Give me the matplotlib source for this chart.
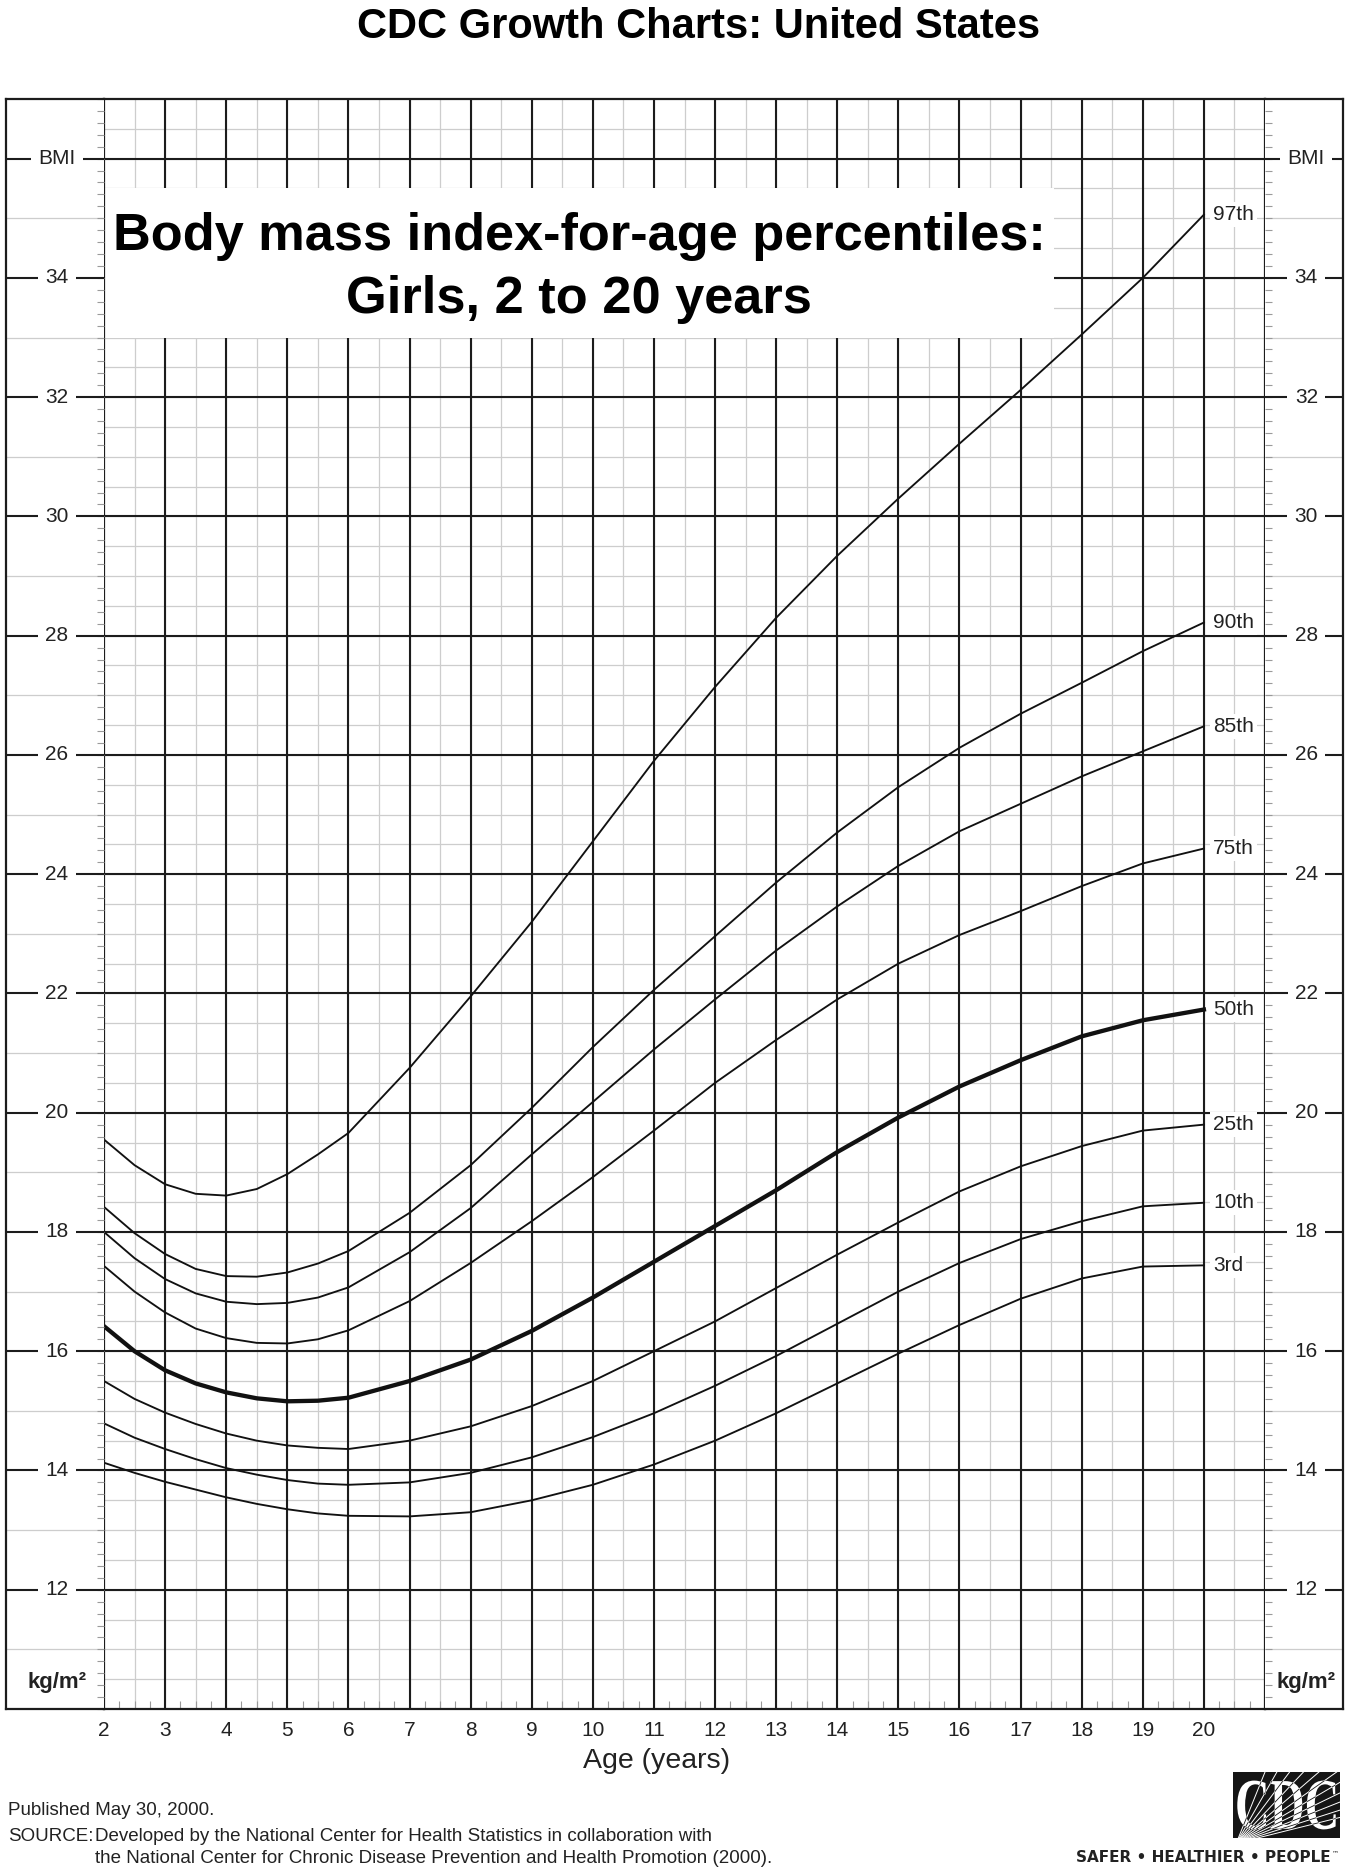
import numpy as np
import matplotlib.pyplot as plt
from matplotlib.patches import Rectangle, PathPatch
from matplotlib.ticker import MultipleLocator
from matplotlib.textpath import TextPath
from matplotlib.font_manager import FontProperties
from matplotlib.transforms import Affine2D

# ---- data (age in years, BMI in kg/m2) ----
ages = [2, 2.5, 3, 3.5, 4, 4.5, 5, 5.5, 6, 7, 8, 9, 10, 11, 12, 13, 14, 15, 16, 17, 18, 19, 20]

p97 = [19.55, 19.12, 18.80, 18.64, 18.61, 18.72, 18.97, 19.30, 19.66, 20.75, 21.95, 23.20,
       24.55, 25.90, 27.14, 28.30, 29.34, 30.30, 31.22, 32.12, 33.05, 34.00, 35.06]
p90 = [18.42, 17.98, 17.63, 17.38, 17.26, 17.25, 17.32, 17.47, 17.68, 18.32, 19.12, 20.08,
       21.10, 22.06, 22.96, 23.86, 24.70, 25.46, 26.12, 26.69, 27.21, 27.74, 28.22]
p85 = [18.00, 17.56, 17.21, 16.97, 16.83, 16.79, 16.81, 16.90, 17.07, 17.66, 18.40, 19.30,
       20.18, 21.06, 21.90, 22.72, 23.46, 24.14, 24.72, 25.18, 25.64, 26.06, 26.48]
p75 = [17.43, 17.00, 16.65, 16.38, 16.22, 16.14, 16.13, 16.20, 16.35, 16.84, 17.48, 18.18,
       18.92, 19.70, 20.50, 21.22, 21.90, 22.50, 22.98, 23.38, 23.80, 24.18, 24.43]
p50 = [16.42, 16.00, 15.68, 15.46, 15.31, 15.21, 15.16, 15.17, 15.22, 15.50, 15.86, 16.34,
       16.90, 17.50, 18.10, 18.70, 19.34, 19.92, 20.44, 20.88, 21.28, 21.55, 21.73]
p25 = [15.50, 15.20, 14.97, 14.78, 14.62, 14.50, 14.42, 14.38, 14.36, 14.50, 14.74, 15.08,
       15.50, 16.00, 16.50, 17.06, 17.62, 18.16, 18.68, 19.10, 19.44, 19.70, 19.80]
p10 = [14.79, 14.55, 14.36, 14.19, 14.04, 13.93, 13.84, 13.78, 13.76, 13.80, 13.96, 14.22,
       14.56, 14.96, 15.42, 15.92, 16.46, 17.00, 17.48, 17.88, 18.18, 18.43, 18.49]
p3 = [14.13, 13.96, 13.81, 13.68, 13.55, 13.44, 13.35, 13.28, 13.24, 13.23, 13.30, 13.50,
      13.76, 14.10, 14.50, 14.96, 15.46, 15.96, 16.44, 16.88, 17.22, 17.42, 17.44]

curves = [p97, p90, p85, p75, p50, p25, p10, p3]
curve_names = ['97th', '90th', '85th', '75th', '50th', '25th', '10th', '3rd']

age_ticks = list(range(2, 21))
bmi_ticks = list(range(12, 37, 2))
bmi_ticklabels = [str(v) for v in range(12, 35, 2)] + ['BMI']

plt.rcParams['font.family'] = ['Liberation Sans', 'DejaVu Sans']
DARK = '#1c1c1c'
LIGHT = '#cdcdcd'
TICK = '#9a9a9a'

W, H = 1355, 1871


def box(x0, y0, x1, y1):
    # pixel box, origin top-left -> figure rect
    return [x0 / W, 1 - y1 / H, (x1 - x0) / W, (y1 - y0) / H]


fig = plt.figure(figsize=(W / 100, H / 100), dpi=100)
ax = fig.add_axes(box(104, 99, 1265, 1709))
axl = fig.add_axes(box(6, 99, 104, 1709))
axr = fig.add_axes(box(1265, 99, 1343, 1709))

for a in (ax, axl, axr):
    a.set_ylim(10, 37)
    for s in a.spines.values():
        s.set_linewidth(1.6)
        s.set_color(DARK)
        s.set_zorder(6)
ax.set_xlim(2, 21)
axl.set_xlim(0, 1)
axr.set_xlim(0, 1)
axl.spines['right'].set_visible(False)
axr.spines['left'].set_visible(False)

# small ticks on the margins every 0.2
axl.yaxis.tick_right()
axl.yaxis.set_major_locator(MultipleLocator(0.2))
axl.tick_params(axis='y', direction='in', length=5, width=0.8, color=TICK,
                labelright=False, labelleft=False)
axl.set_xticks([])
axr.yaxis.set_major_locator(MultipleLocator(0.2))
axr.tick_params(axis='y', direction='in', length=5, width=0.8, color=TICK,
                labelleft=False, labelright=False)
axr.set_xticks([])

# age axis
ax.set_yticks([])
ax.set_xticks(age_ticks)
ax.set_xticklabels([str(a) for a in age_ticks])
ax.xaxis.set_minor_locator(MultipleLocator(0.25))
ax.tick_params(axis='x', which='major', length=0, pad=9, labelsize=15, labelcolor='#222')
ax.tick_params(axis='x', which='minor', direction='in', length=6, width=0.8, color=TICK)

# grid
ax.hlines(np.arange(10.5, 37, 0.5), 2, 21, colors=LIGHT, lw=0.9, zorder=1)
ax.vlines(np.arange(2.5, 21, 0.5), 10, 37, colors=LIGHT, lw=0.9, zorder=1)
ax.hlines(bmi_ticks, 2, 21, colors=DARK, lw=1.5, zorder=2)
ax.vlines(age_ticks[1:], 10, 37, colors=DARK, lw=1.5, zorder=2)

# margins with BMI labels
for a, xc in ((axl, 0.52), (axr, 0.53)):
    a.hlines(range(11, 37, 2), 0, 1, colors=LIGHT, lw=0.9, zorder=1)
    a.hlines(bmi_ticks, 0, 1, colors=DARK, lw=1.5, zorder=2)
    for v, lab in zip(bmi_ticks, bmi_ticklabels):
        a.text(xc, v, lab, ha='center', va='center', fontsize=15, color='#222', zorder=4,
               bbox=dict(boxstyle='square,pad=0.35', fc='white', ec='none'))
    a.text(xc, 10.45, 'kg/m²', ha='center', va='center', fontsize=16,
           fontweight='bold', color='#222', zorder=4)

# title box inside the grid
ax.add_patch(Rectangle((2, 33.0), 15.55, 2.5, facecolor='white', edgecolor='none', zorder=3))
ax.text(9.78, 34.47, 'Body mass index-for-age percentiles:', ha='center', va='baseline',
        fontsize=37.7, fontweight='bold', zorder=4)
ax.text(9.78, 33.41, 'Girls, 2 to 20 years', ha='center', va='baseline',
        fontsize=37.7, fontweight='bold', zorder=4)

# percentile curves
for vals, name in zip(curves, curve_names):
    lw = 3.1 if name == '50th' else 1.35
    ax.plot(ages, vals, color='#111', lw=lw, zorder=4, solid_joinstyle='round')
    ax.text(20.15, vals[-1], name, ha='left', va='center', fontsize=15, color='#222',
            zorder=5, bbox=dict(boxstyle='square,pad=0.15', fc='white', ec='none'))

# texts around
fig.text(699 / W, 1 - 38 / H, 'CDC Growth Charts: United States', ha='center',
         va='baseline', fontsize=30, fontweight='bold')
fig.text(657 / W, 1 - 1768 / H, 'Age (years)', ha='center', va='baseline', fontsize=20.5,
         color='#222')
fig.text(8 / W, 1 - 1815 / H, 'Published May 30, 2000.', ha='left', va='baseline',
         fontsize=13.5, color='#222')
fig.text(8 / W, 1 - 1841 / H, 'SOURCE:', ha='left', va='baseline',
         fontsize=13.5, color='#222')
fig.text(95 / W, 1 - 1841 / H,
         'Developed by the National Center for Health Statistics in collaboration with',
         ha='left', va='baseline', fontsize=13.5, color='#222')
fig.text(95 / W, 1 - 1863 / H,
         'the National Center for Chronic Disease Prevention and Health Promotion (2000).',
         ha='left', va='baseline', fontsize=13.5, color='#222')

# CDC logo
logo = fig.add_axes(box(1233, 1772, 1340, 1838))
logo.set_xlim(0, 1)
logo.set_ylim(0, 1)
logo.axis('off')
logo.add_patch(Rectangle((0, 0), 1, 1, facecolor='#151515', edgecolor='none'))
tp = TextPath((0, 0), 'CDC', size=1, prop=FontProperties(family='Liberation Serif', weight='bold'))
ext = tp.get_extents()
tr = Affine2D().translate(-ext.x0, -ext.y0).scale(0.92 / ext.width, 0.74 / ext.height).translate(0.04, 0.13)
letters = PathPatch(tr.transform_path(tp), facecolor='white', edgecolor='none', zorder=3)
logo.add_patch(letters)
for ang in np.linspace(22, 76, 11):
    dx, dy = np.cos(np.radians(ang)) * 2, np.sin(np.radians(ang)) * 2
    logo.plot([0.03, 0.03 + dx], [-0.08, -0.08 + dy], color='white', lw=0.7, zorder=2)
    ln, = logo.plot([0.03, 0.03 + dx], [-0.08, -0.08 + dy], color='#151515', lw=0.6, zorder=4)
    ln.set_clip_path(letters)
fig.text(1331 / W, 1 - 1862 / H, 'SAFER • HEALTHIER • PEOPLE', ha='right', va='baseline',
         fontsize=11, fontweight='bold', family=['DejaVu Sans'], color='#222')
fig.text(1332 / W, 1 - 1855 / H, '™', ha='left', va='baseline', fontsize=5,
         family=['DejaVu Sans'], color='#222')

fig.savefig('out.png', dpi=100, facecolor='white')
